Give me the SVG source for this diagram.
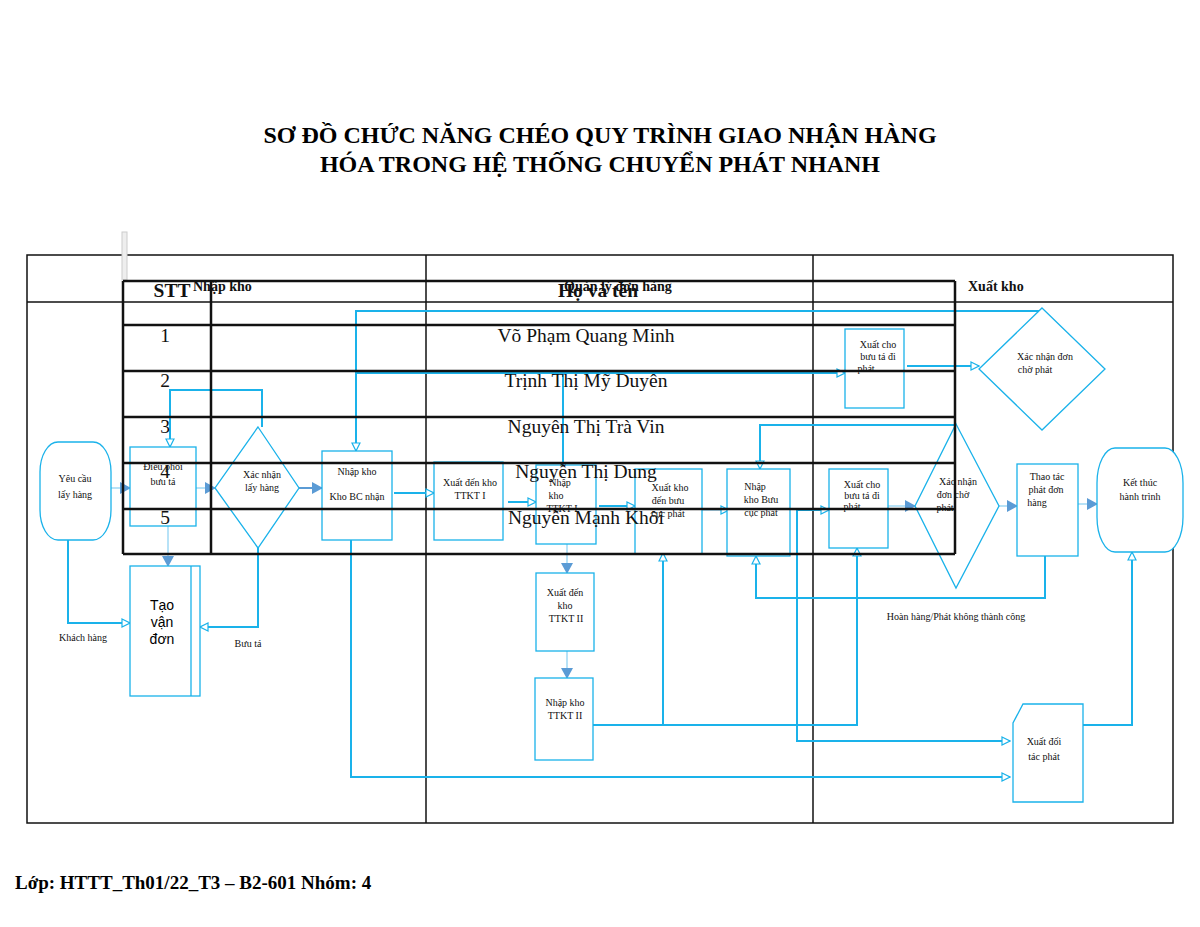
<svg xmlns="http://www.w3.org/2000/svg" width="1200" height="927" viewBox="0 0 1200 927">
<style>
.n{fill:#fff;stroke:#1ab2ea;stroke-width:1.3}
.c{fill:none;stroke:#1ab2ea;stroke-width:2}
.cl{fill:none;stroke:#9fd8f5;stroke-width:1.5}
.t{font-family:"Liberation Serif",serif;font-size:10px;fill:#111;text-anchor:middle}
.tb{font-family:"Liberation Serif",serif;font-size:19.5px;fill:#111;text-anchor:middle}
.h{font-family:"Liberation Serif",serif;font-size:14px;font-weight:bold;fill:#111}
.k{stroke:#111;stroke-width:2.5;fill:none}
</style>
<defs>
<marker id="o" markerWidth="10" markerHeight="10" refX="9" refY="5" orient="auto" markerUnits="userSpaceOnUse"><path d="M1,1 L9,5 L1,9 Z" fill="#fff" stroke="#1ab2ea" stroke-width="1.2"/></marker>
<marker id="f" markerWidth="12" markerHeight="12" refX="10" refY="6" orient="auto" markerUnits="userSpaceOnUse"><path d="M0,0 L11,6 L0,12 Z" fill="#5b9bd5"/></marker>
</defs>
<rect width="1200" height="927" fill="#fff"/>
<text x="600" y="143" text-anchor="middle" font-family="Liberation Serif,serif" font-size="24" font-weight="bold">SƠ ĐỒ CHỨC NĂNG CHÉO QUY TRÌNH GIAO NHẬN HÀNG</text>
<text x="600" y="172" text-anchor="middle" font-family="Liberation Serif,serif" font-size="24" font-weight="bold">HÓA TRONG HỆ THỐNG CHUYỂN PHÁT NHANH</text>
<g id="lanes" fill="none" stroke="#111" stroke-width="1.5">
<rect x="27" y="255" width="1146" height="568"/>
<line x1="27" y1="302" x2="1173" y2="302"/>
<line x1="426" y1="255" x2="426" y2="823"/>
<line x1="813" y1="255" x2="813" y2="823"/>
</g>
<rect x="122" y="232" width="5" height="48" fill="#eee" stroke="#ccc"/>
<text class="h" x="193" y="291">Nhập kho</text>
<text class="h" x="564" y="291">Quản lý đơn hàng</text>
<text class="h" x="968" y="291">Xuất kho</text>
<g id="connectors">
<path class="cl" d="M111,488 H130" marker-end="url(#f)"/>
<path class="c" d="M68,540 V623 H130" marker-end="url(#o)"/>
<path class="cl" d="M196,488 H215" marker-end="url(#f)"/>
<path class="cl" d="M168,526 V566" marker-end="url(#f)"/>
<path class="c" d="M262,427 V390 H170 V447" marker-end="url(#o)"/>
<path class="c" d="M258,548 V627 H200" marker-end="url(#o)"/>
<path d="M299,488 H322" stroke="#5b9bd5" stroke-width="2" marker-end="url(#f)"/>
<path class="c" d="M394,493 H434" marker-end="url(#o)"/>
<path class="c" d="M1040,311 H356 V451" marker-end="url(#o)"/>
<path class="c" d="M356,373 H845" marker-end="url(#o)"/>
<path class="c" d="M563,373 V465"/>
<path class="c" d="M351,540 V777 H1010" marker-end="url(#o)"/>
<path class="c" d="M508,502 H536" marker-end="url(#o)"/>
<path class="c" d="M599,506 H635" marker-end="url(#o)"/>
<path class="cl" d="M567,544 V573" marker-end="url(#f)"/>
<path class="cl" d="M567,651 V678" marker-end="url(#f)"/>
<path class="c" d="M593,725 H857 V548" marker-end="url(#o)"/>
<path class="c" d="M663,725 V553" marker-end="url(#o)"/>
<path class="cl" d="M702,510 H729" marker-end="url(#o)"/>
<path class="c" d="M797,510 V741 H1010" marker-end="url(#o)"/>
<path class="c" d="M797,510 H829" marker-end="url(#o)"/>
<path class="c" d="M1045,556 V598 H756 V556" marker-end="url(#o)"/>
<path class="c" d="M956,425 H760 V469" marker-end="url(#o)"/>
<path class="cl" d="M888,506 H915" marker-end="url(#f)"/>
<path class="cl" d="M999,506 H1017" marker-end="url(#f)"/>
<path class="cl" d="M1078,504 H1097" marker-end="url(#f)"/>
<path class="c" d="M1083,725 H1132 V552" marker-end="url(#o)"/>
<path class="c" d="M907,366 H979" marker-end="url(#o)"/>
<text class="t" x="83" y="641">Khách hàng</text>
<text class="t" x="248" y="647">Bưu tá</text>
<text class="t" x="956" y="620">Hoàn hàng/Phát không thành công</text>
</g>
<g id="yeucau"><rect class="n" x="40" y="442" width="71" height="98" rx="18" ry="30"/><text class="t" font-size="12" x="75" y="482">Yêu cầu</text><text class="t" font-size="12" x="75" y="498">lấy hàng</text></g>
<g id="dieuphoi"><rect class="n" x="130" y="447" width="66" height="79"/><text class="t" x="163" y="470">Điều phối</text><text class="t" x="163" y="485">bưu tá</text></g>
<g id="xacnhanlay"><path class="n" d="M258,427 L299,488 L258,548 L215,488 Z"/><text class="t" x="262" y="478">Xác nhận</text><text class="t" x="262" y="491">lấy hàng</text></g>
<g id="nhapkhobc"><rect class="n" x="322" y="451" width="70" height="89"/><text class="t" x="357" y="475">Nhập kho</text><text class="t" x="357" y="500">Kho BC nhận</text></g>
<g id="taovandon"><rect class="n" x="130" y="566" width="70" height="130"/><line x1="191" y1="566" x2="191" y2="696" stroke="#1ab2ea" stroke-width="1.3"/><text x="162" y="610" text-anchor="middle" font-family="Liberation Sans,sans-serif" font-size="14">Tạo</text><text x="162" y="627" text-anchor="middle" font-family="Liberation Sans,sans-serif" font-size="14">vận</text><text x="162" y="644" text-anchor="middle" font-family="Liberation Sans,sans-serif" font-size="14">đơn</text></g>
<g id="xuatttkt1"><rect class="n" x="434" y="462" width="69" height="78"/><text class="t" x="470" y="486">Xuất đến kho</text><text class="t" x="470" y="499">TTKT I</text></g>
<g id="nhapttkt1"><rect class="n" x="536" y="465" width="60" height="79"/><text class="t" x="560" y="486">Nhập</text><text class="t" x="556" y="499">kho</text><text class="t" x="562" y="512">TTKT I</text></g>
<g id="xuatbcp"><rect class="n" x="635" y="469" width="67" height="85"/><text class="t" x="670" y="491">Xuất kho</text><text class="t" x="668" y="504">đến bưu</text><text class="t" x="668" y="517">cục phát</text></g>
<g id="nhapbcp"><rect class="n" x="727" y="469" width="63" height="87"/><text class="t" x="755" y="490">Nhập</text><text class="t" x="761" y="503">kho Bưu</text><text class="t" x="761" y="516">cục phát</text></g>
<g id="xuatttkt2"><rect class="n" x="536" y="573" width="58" height="78"/><text class="t" x="565" y="596">Xuất đến</text><text class="t" x="565" y="609">kho</text><text class="t" x="566" y="622">TTKT II</text></g>
<g id="nhapttkt2"><rect class="n" x="535" y="678" width="58" height="82"/><text class="t" x="565" y="706">Nhập kho</text><text class="t" x="565" y="719">TTKT II</text></g>
<g id="xuatbuuta1"><rect class="n" x="845" y="329" width="59" height="79"/><text class="t" font-size="8" x="878" y="348">Xuất cho</text><text class="t" font-size="8" x="878" y="360">bưu tá đi</text><text class="t" font-size="8" x="866" y="372">phát</text></g>
<g id="xacnhandon1"><path class="n" d="M1042,308 L1105,369 L1042,430 L979,369 Z"/><text class="t" x="1045" y="360">Xác nhận đơn</text><text class="t" x="1035" y="373">chờ phát</text></g>
<g id="xuatbuuta2"><rect class="n" x="829" y="469" width="59" height="79"/><text class="t" font-size="8" x="862" y="488">Xuất cho</text><text class="t" font-size="8" x="862" y="499">bưu tá đi</text><text class="t" font-size="8" x="852" y="510">phát</text></g>
<g id="xacnhandon2"><path class="n" d="M956,424 L999,506 L956,588 L915,506 Z"/><text class="t" x="958" y="485">Xác nhận</text><text class="t" x="953" y="498">đơn chờ</text><text class="t" x="945" y="511">phát</text></g>
<g id="thaotac"><rect class="n" x="1017" y="464" width="61" height="92"/><text class="t" x="1047" y="480">Thao  tác</text><text class="t" x="1046" y="493">phát  đơn</text><text class="t" x="1037" y="506">hàng</text></g>
<g id="ketthuc"><rect class="n" x="1097" y="448" width="86" height="104" rx="18" ry="35"/><text class="t" x="1140" y="486">Kết thúc</text><text class="t" x="1140" y="500">hành trình</text></g>
<g id="xuatdoitac"><path class="n" d="M1023,704 H1083 V802 H1013 V723 Z"/><text class="t" font-size="11" x="1044" y="745">Xuất đối</text><text class="t" font-size="11" x="1044" y="760">tác phát</text></g>
<g id="table">
<g class="k">
<line x1="123" y1="281" x2="955" y2="281"/>
<line x1="123" y1="325" x2="955" y2="325"/>
<line x1="123" y1="371" x2="955" y2="371"/>
<line x1="123" y1="417" x2="955" y2="417"/>
<line x1="123" y1="463" x2="955" y2="463"/>
<line x1="123" y1="509" x2="955" y2="509"/>
<line x1="123" y1="554" x2="955" y2="554"/>
<line x1="123" y1="281" x2="123" y2="554"/>
<line x1="211" y1="281" x2="211" y2="554"/>
<line x1="955" y1="281" x2="955" y2="554"/>
</g>
<text x="172" y="297" class="tb" font-size="20" font-weight="bold">STT</text>
<text x="598" y="297" class="tb" font-size="20" font-weight="bold">Họ và tên</text>
<text class="tb" x="165" y="342">1</text><text class="tb" x="165" y="387">2</text><text class="tb" x="165" y="433">3</text><text class="tb" x="165" y="478">4</text><text class="tb" x="165" y="524">5</text>
<text class="tb" x="586" y="342">Võ Phạm Quang Minh</text>
<text class="tb" x="586" y="387">Trịnh Thị Mỹ Duyên</text>
<text class="tb" x="586" y="433">Nguyên Thị Trà Vin</text>
<text class="tb" x="586" y="478">Nguyễn Thị Dung</text>
<text class="tb" x="586" y="524">Nguyễn Mạnh Khôi</text>
</g>
<text x="15" y="889" font-family="Liberation Serif,serif" font-size="19" font-weight="bold">Lớp: HTTT_Th01/22_T3 – B2-601 Nhóm: 4</text>
</svg>
